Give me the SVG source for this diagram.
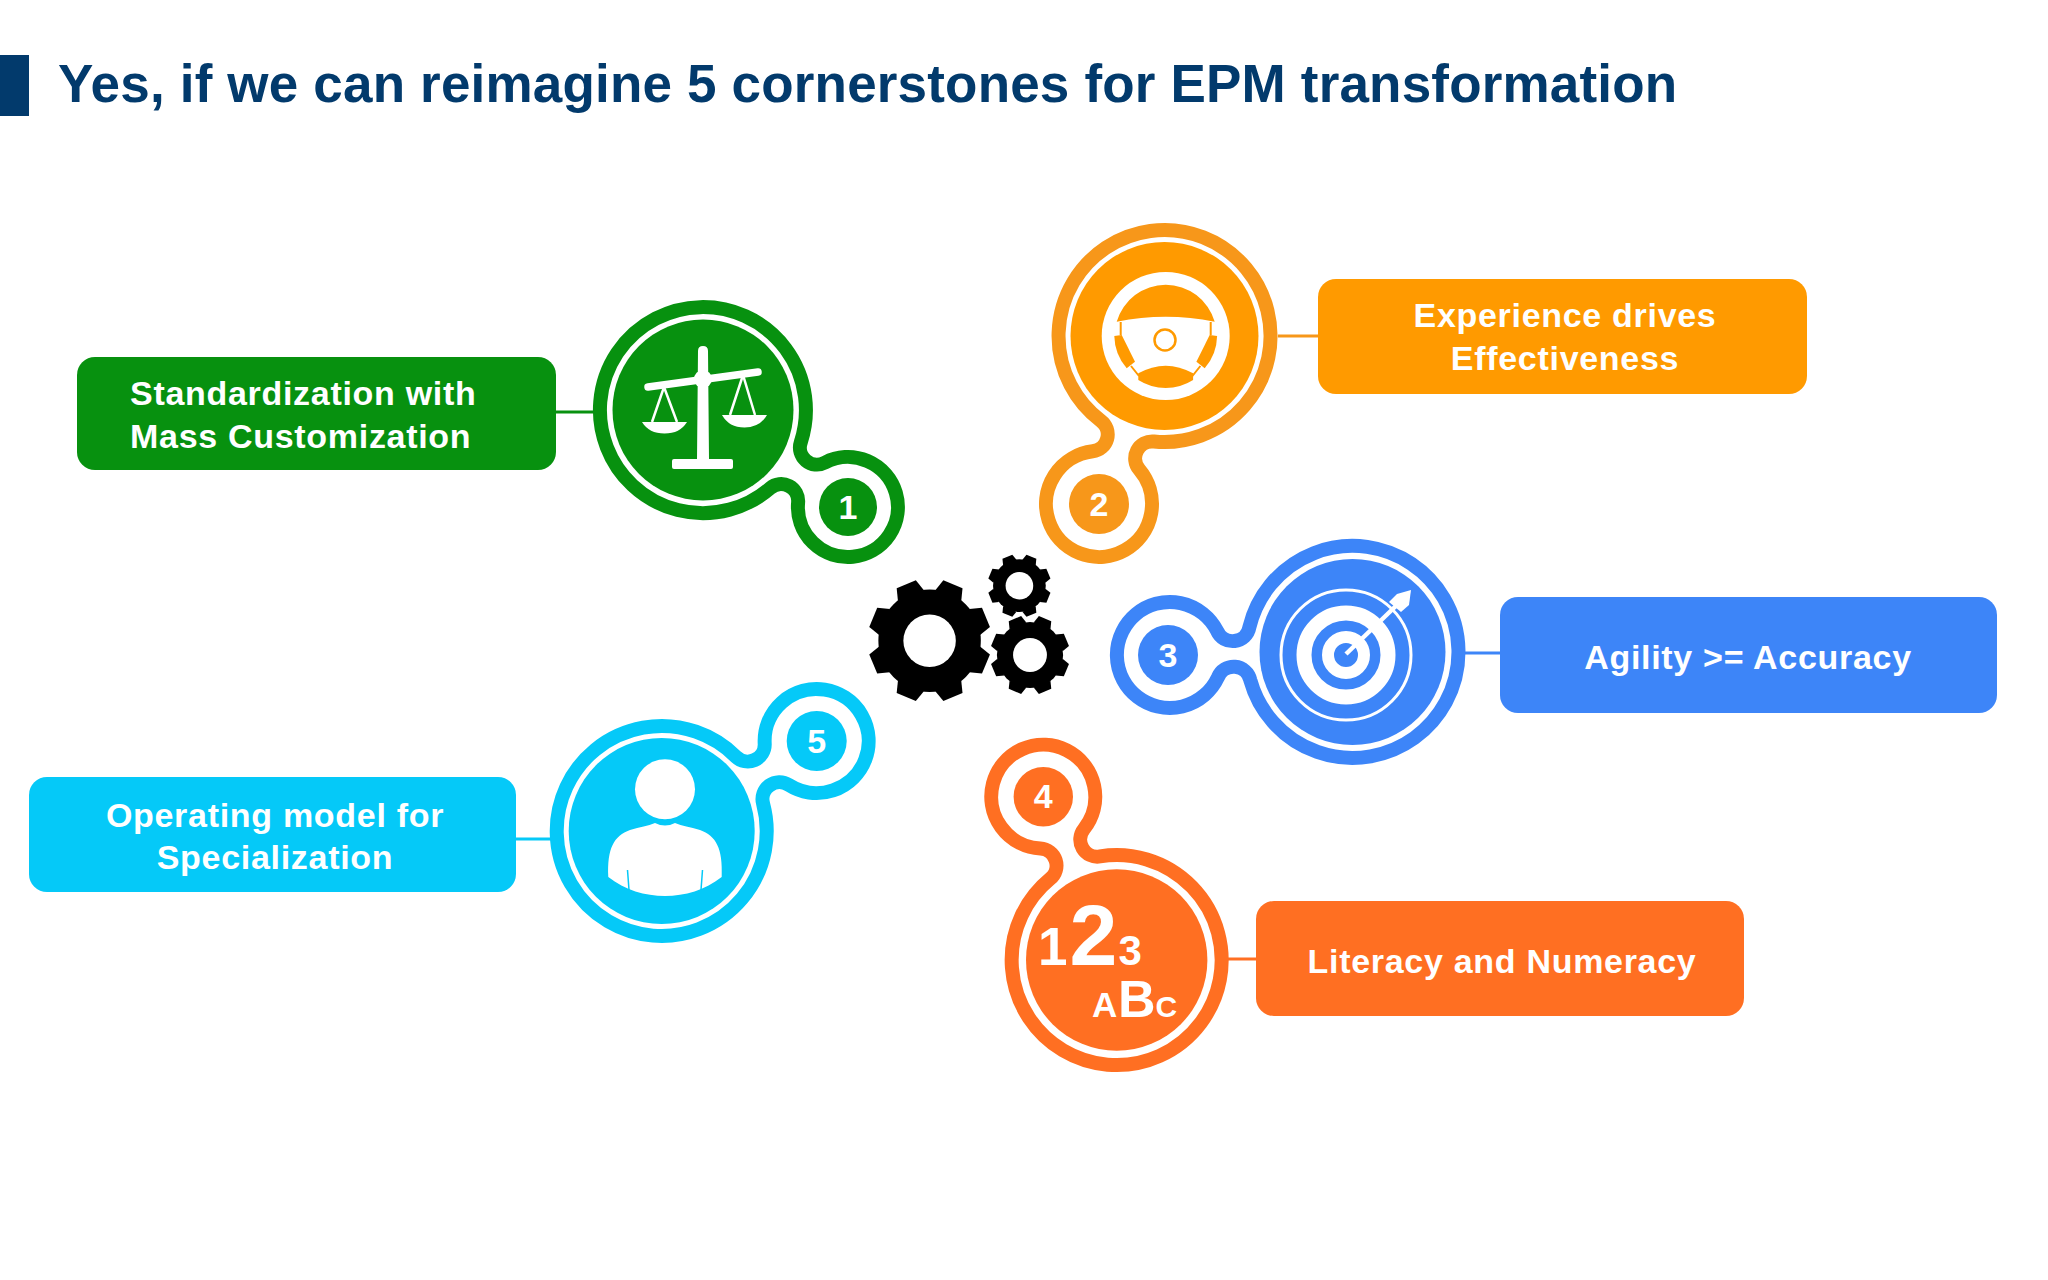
<svg xmlns="http://www.w3.org/2000/svg" width="2048" height="1280" viewBox="0 0 2048 1280">
<style>
.lbl{font-family:"Liberation Sans",Arial,sans-serif;font-weight:700;font-size:34px;letter-spacing:.7px;fill:#fff;text-anchor:middle}
.num{font-family:"Liberation Sans",Arial,sans-serif;font-weight:700;font-size:34px;fill:#fff;text-anchor:middle}
.ico{font-family:"Liberation Sans",Arial,sans-serif;font-weight:700;fill:#fff}
.blob{fill:#fff;stroke-width:14}
.conn{stroke-width:3;fill:none}
.icon-s{fill:none;stroke:#fff}
</style>
<defs>
<g id="gear">
<circle r="0.84" fill="#000"/>
<polygon id="t" points="-0.23,-0.8 -0.17,-1 0.17,-1 0.23,-0.8" fill="#000" transform="rotate(22.5)"/>
<use href="#t" transform="rotate(45)"/><use href="#t" transform="rotate(90)"/><use href="#t" transform="rotate(135)"/><use href="#t" transform="rotate(180)"/><use href="#t" transform="rotate(225)"/><use href="#t" transform="rotate(270)"/><use href="#t" transform="rotate(315)"/>
</g>
</defs>
<rect width="2048" height="1280" fill="#fff"/>
<rect x="0" y="55" width="29" height="61" fill="#023a6c"/>
<text x="58" y="102" font-family="Liberation Sans,Arial,sans-serif" font-weight="700" font-size="53" letter-spacing="0.18" fill="#023a6c">Yes, if we can reimagine 5 cornerstones for EPM transformation</text>
<g id="connectors">
<line class="conn" x1="556" y1="412" x2="596" y2="412" stroke="#07910f"/>
<line class="conn" x1="1278" y1="336" x2="1318" y2="336" stroke="#f7971a"/>
<line class="conn" x1="1465" y1="653" x2="1500" y2="653" stroke="#3d85f8"/>
<line class="conn" x1="1228" y1="959" x2="1256" y2="959" stroke="#ff6f22"/>
<line class="conn" x1="516" y1="839" x2="551" y2="839" stroke="#05c9f8"/>
</g>
<g id="gears">
<g transform="translate(929.6,640.7) scale(61)"><use href="#gear"/><circle r="0.43" fill="#fff"/></g>
<g transform="translate(1019.4,585.7) scale(31.4)"><use href="#gear"/><circle r="0.44" fill="#fff"/></g>
<g transform="translate(1030,655) scale(39.4)"><use href="#gear"/><circle r="0.43" fill="#fff"/></g>
</g>
<g id="node1">
<rect x="77" y="357" width="479" height="113" rx="18" fill="#07910f"/>
<text class="lbl" x="130" y="405" style="text-anchor:start">Standardization with</text>
<text class="lbl" x="130" y="448" style="text-anchor:start">Mass Customization</text>
<path class="blob" stroke="#07910f" d="M800.8,442.2A103,103 0 1 0 770.1,488.2A17,17 0 0 1 798.1,502.6A50,50 0 1 0 824.9,462.6A17,17 0 0 1 800.8,442.2Z"/>
<circle cx="703" cy="410" r="90.5" fill="#07910f"/>
<circle cx="848" cy="507" r="29" fill="#07910f"/>
<text class="num" x="848" y="519">1</text>
<g fill="#fff">
<path d="M698,351Q698,346 703,346Q708,346 708,351L709,459H697Z"/>
<circle cx="703" cy="379" r="9"/>
<rect x="672" y="459" width="61" height="10" rx="2"/>
<path d="M642,422H687Q680,433.5 664.5,433.5Q649,433.5 642,422Z"/>
<path d="M722,415H767Q760,427.5 744.5,427.5Q729,427.5 722,415Z"/>
</g>
<line class="icon-s" x1="648" y1="387" x2="758" y2="372" stroke-width="7.5" stroke-linecap="round"/>
<path class="icon-s" stroke-width="2.5" d="M652,422L664,387L677,422M730,415L743,375L755,415"/>
</g>
<g id="node2">
<rect x="1318" y="279" width="489" height="115" rx="18" fill="#ff9a00"/>
<text class="lbl" x="1565" y="327">Experience drives</text>
<text class="lbl" x="1565" y="370">Effectiveness</text>
<path class="blob" stroke="#f7971a" d="M1153.9,441.5A106,106 0 1 0 1100.9,420.8A17,17 0 0 1 1092.7,451.3A53,53 0 1 0 1139.3,469.5A17,17 0 0 1 1153.9,441.5Z"/>
<circle cx="1164.5" cy="336" r="94" fill="#ff9a00"/>
<circle cx="1099" cy="504" r="30" fill="#f7971a"/>
<text class="num" x="1099" y="516">2</text>
<circle cx="1165.7" cy="336" r="64" fill="#fff"/>
<g fill="#ff9a00">
<path d="M1116.7,321.7A51,51 0 0 1 1214.7,321.7Q1165.7,311.7 1116.7,321.7Z"/>
<path d="M1114.3,336L1121.7,335L1135,361.7L1126.7,368.3A51,51 0 0 1 1114.3,336Z"/>
<path d="M1217.1,336L1209.7,335L1196.4,361.7L1204.7,368.3A51,51 0 0 0 1217.1,336Z"/>
<path d="M1138.3,373.3Q1165.7,358 1193.1,373.3L1193.1,380A51,51 0 0 1 1138.3,380Z"/>
</g>
<g fill="none" stroke="#ff9a00" stroke-width="2">
<path d="M1120.7,322V335M1210.7,322V335M1131,366L1139,376M1200.4,366L1192.4,376"/>
<circle cx="1165" cy="340" r="10.5" stroke-width="2.5"/>
</g>
</g>
<g id="node3">
<rect x="1500" y="597" width="497" height="116" rx="18" fill="#3d85f8"/>
<text class="lbl" x="1748" y="669">Agility &gt;= Accuracy</text>
<path class="blob" stroke="#3d85f8" d="M1250.3,680.1A106,106 0 1 0 1249.4,627.2A17,17 0 0 1 1217.1,630.9A53,53 0 1 0 1217.9,677.4A17,17 0 0 1 1250.3,680.1Z"/>
<circle cx="1352.5" cy="652" r="93" fill="#3d85f8"/>
<circle cx="1168" cy="655" r="30" fill="#3d85f8"/>
<text class="num" x="1168" y="667">3</text>
<g class="icon-s">
<circle cx="1346" cy="655" r="65" stroke-width="3"/>
<circle cx="1346" cy="655" r="42" stroke-width="15"/>
<circle cx="1346" cy="655" r="18" stroke-width="12"/>
<line x1="1346" y1="654" x2="1399" y2="603" stroke-width="4.5"/>
</g>
<polygon points="1389,602 1397,594 1411,590 1409,605 1401,612" fill="#fff"/>
</g>
<g id="node4">
<rect x="1256" y="901" width="488" height="115" rx="18" fill="#ff6f22"/>
<text class="lbl" x="1502" y="973">Literacy and Numeracy</text>
<path class="blob" stroke="#ff6f22" d="M1050.3,878.7A105,105 0 1 0 1100,856.4A17,17 0 0 1 1084,829A52,52 0 1 0 1040.4,848.6A17,17 0 0 1 1050.3,878.7Z"/>
<circle cx="1116.7" cy="960" r="90.7" fill="#ff6f22"/>
<circle cx="1043.3" cy="796.7" r="29.7" fill="#ff6f22"/>
<text class="num" x="1043.3" y="808">4</text>
<text class="ico" x="1038" y="965" font-size="53">1</text>
<text class="ico" x="1069.5" y="965" font-size="86">2</text>
<text class="ico" x="1118.5" y="965" font-size="42">3</text>
<text class="ico" x="1092" y="1017" font-size="35">A</text>
<text class="ico" x="1118" y="1017" font-size="52">B</text>
<text class="ico" x="1155.5" y="1017" font-size="30">C</text>
</g>
<g id="node5">
<rect x="29" y="777" width="487" height="115" rx="18" fill="#05c9f8"/>
<text class="lbl" x="275" y="827">Operating model for</text>
<text class="lbl" x="275" y="869">Specialization</text>
<path class="blob" stroke="#05c9f8" d="M735.7,756.5A105,105 0 1 0 763.1,803.7A17,17 0 0 1 788.7,784.9A52,52 0 1 0 764.7,743.6A17,17 0 0 1 735.7,756.5Z"/>
<circle cx="661.7" cy="831" r="93" fill="#05c9f8"/>
<circle cx="816.7" cy="741" r="30" fill="#05c9f8"/>
<text class="num" x="816.7" y="753">5</text>
<circle cx="665" cy="789.3" r="30" fill="#fff"/>
<path fill="#fff" d="M608.3,877C607,848 614,836 630,830C640,827 648,826 655,823Q665,828 675,823C682,826 690,827 700,830C716,836 723,848 721.7,877C705,890 685,896 665,896C645,896 625,890 608.3,877Z"/>
<path fill="none" stroke="#05c9f8" stroke-width="1.5" d="M627.5,870L629,890M702.5,870L701,890"/>
</g>
</svg>
